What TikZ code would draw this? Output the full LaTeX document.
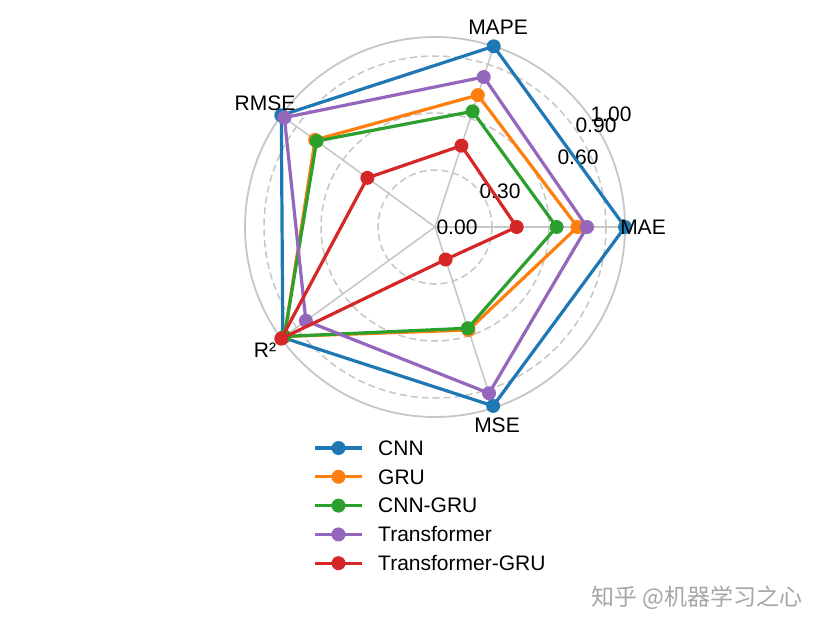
\documentclass[tikz,border=0pt]{standalone}
\usepackage{fontspec}
\setmainfont{Liberation Sans}
\newfontfamily\cjk{Noto Sans CJK SC}
\definecolor{cA}{HTML}{1F77B4}
\definecolor{cB}{HTML}{FF7F0E}
\definecolor{cC}{HTML}{2CA02C}
\definecolor{cD}{HTML}{9467BD}
\definecolor{cE}{HTML}{D62728}
\tikzset{series/.style={line width=3.2pt,line join=round},
 mk/.style={circle,inner sep=0pt,minimum size=14pt},
 lbl/.style={font=\fontsize{21}{21}\selectfont,inner sep=1pt}}
\newcommand{\ser}[6]{%
 \draw[series,#1] ({435+190*#2},227) -- ({435+190*#3*cos(72)},{227-190*#3*sin(72)}) -- ({435+190*#4*cos(144)},{227-190*#4*sin(144)}) -- ({435+190*#5*cos(216)},{227-190*#5*sin(216)}) -- ({435+190*#6*cos(288)},{227-190*#6*sin(288)}) -- cycle;
 \foreach \v/\a in {#2/0,#3/72,#4/144,#5/216,#6/288}{\node[mk,fill=#1] at ({435+190*\v*cos(\a)},{227-190*\v*sin(\a)}) {};}}
\begin{document}
\begin{tikzpicture}[x=1pt,y=-1pt]
\useasboundingbox (0,0) rectangle (840,630);
\fill[white] (0,0) rectangle (840,630);
\coordinate (c) at (435,227);
\foreach \r in {57,114,171}{\draw[gray!45,line width=1.5pt,dash pattern=on 7pt off 4pt] (c) circle[radius=\r];}
\draw[gray!45,line width=1.8pt] (c) circle[radius=190];
\foreach \a in {0,72,144,216,288}{\draw[gray!45,line width=1.5pt] (c) -- ({435+190*cos(\a)},{227-190*sin(\a)});}
\node[lbl] (l0) at (457,227) {0.00};
\node[lbl] (l3) at (500,191) {0.30};
\node[lbl] (l6) at (578,157) {0.60};
\node[lbl] (l9) at (596,125) {0.90};
\node[lbl] (l10) at (611,114) {1.00};
\ser{cA}{1.0}{1.0}{1.0}{0.99}{0.99}
\ser{cB}{0.75}{0.73}{0.78}{0.98}{0.57}
\ser{cC}{0.64}{0.64}{0.77}{0.98}{0.56}
\ser{cD}{0.80}{0.83}{0.98}{0.84}{0.92}
\ser{cE}{0.43}{0.45}{0.44}{1.0}{0.18}
\node[lbl] (mae) at (643,227) {MAE};
\node[lbl] (mape) at (498,27) {MAPE};
\node[lbl] (rmse) at (265,103) {RMSE};
\node[lbl] (r2) at (265,350) {R²};
\node[lbl] (mse) at (497,425) {MSE};
\foreach \c/\t [count=\i from 0] in {cA/CNN,cB/GRU,cC/CNN-GRU,cD/Transformer,cE/Transformer-GRU}{
 \draw[series,\c] (315,{448+28.8*\i}) -- (362,{448+28.8*\i});
 \node[mk,fill=\c] (m\i) at (338.5,{448+28.8*\i}) {};
 \node[lbl,anchor=west] (t\i) at (377,{448+28.8*\i}) {\t};}
\node[font=\cjk\fontsize{23}{23}\selectfont,text=gray!70,anchor=west] (wm) at (588,598) {知乎 @机器学习之心};
\end{tikzpicture}
\end{document}
